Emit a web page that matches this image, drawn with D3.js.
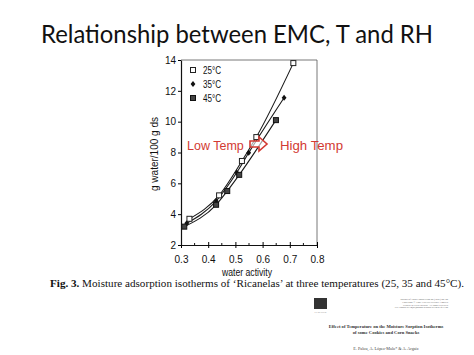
<!DOCTYPE html>
<html>
<head>
<meta charset="utf-8">
<script src="https://cdn.jsdelivr.net/npm/d3@7"></script>
<style>
  body { margin: 0; background: #fff; }
  text { font-family: "Liberation Sans", Arial, sans-serif; }
  .narrow { font-family: "Liberation Sans Narrow", "Arial Narrow", "Liberation Sans", sans-serif; }
  .serif { font-family: "Liberation Serif", "Times New Roman", serif; }
  .title { font-family: Lato, "Open Sans", sans-serif; }
</style>
</head>
<body>
<script>
// data
var series = ["25°C", "35°C", "45°C"];
var aw25 = [0.331, 0.440, 0.524, 0.577, 0.713];
var m25 = [3.70, 5.22, 7.45, 9.00, 13.80];
var aw35 = [0.321, 0.429, 0.505, 0.549, 0.679];
var m35 = [3.41, 4.85, 6.70, 7.98, 11.55];
var aw45 = [0.312, 0.429, 0.470, 0.514, 0.649];
var m45 = [3.19, 4.61, 5.50, 6.55, 10.10];
var xTicks = [0.3, 0.4, 0.5, 0.6, 0.7, 0.8];
var yTicks = [2, 4, 6, 8, 10, 12, 14];

var W = 474, H = 355;
var svg = d3.select("body").append("svg").attr("width", W).attr("height", H);

// slide title
svg.append("text").attr("class", "title")
    .attr("x", 237).attr("y", 43)
    .attr("text-anchor", "middle")
    .attr("font-size", 25)
    .attr("fill", "#111")
    .attr("textLength", 392).attr("lengthAdjust", "spacingAndGlyphs")
    .text("Relationship between EMC, T and RH");

var x = d3.scaleLinear().domain([0.3, 0.8]).range([181, 317]);
var y = d3.scaleLinear().domain([2, 14]).range([245, 60]);

var g = svg.append("g");

// frame top and right
g.append("path")
    .attr("d", "M" + x(0.3) + "," + y(14) + "H" + x(0.8) + "V" + y(2))
    .attr("fill", "none").attr("stroke", "#555").attr("stroke-width", 0.8);

var xAxis = g.append("g")
    .attr("transform", "translate(0," + y(2) + ")")
    .call(d3.axisBottom(x).tickValues(xTicks).tickFormat(d3.format(".1f")).tickSizeInner(3).tickSizeOuter(0).tickPadding(8));
xAxis.selectAll(".tick line").attr("y1", -3);
xAxis.selectAll(".tick text").attr("class", "narrow").attr("font-size", 10).attr("fill", "#111");
// minor ticks
xAxis.selectAll(".minor").data([0.35, 0.45, 0.55, 0.65, 0.75]).enter().append("line")
    .attr("x1", function (d) { return x(d); }).attr("x2", function (d) { return x(d); })
    .attr("y1", -2).attr("y2", 0).attr("stroke", "#111");

var yAxis = g.append("g")
    .attr("transform", "translate(" + x(0.3) + ",0)")
    .call(d3.axisLeft(y).tickValues(yTicks).tickSizeInner(3).tickSizeOuter(0).tickPadding(2));
yAxis.selectAll(".tick text").attr("class", "narrow").attr("font-size", 10).attr("fill", "#111");
g.selectAll(".domain").attr("stroke", "#111").attr("stroke-width", 1.2);

g.append("text").attr("class", "narrow")
    .attr("x", x(0.55) - 2).attr("y", 276)
    .attr("text-anchor", "middle").attr("font-size", 10).attr("fill", "#111")
    .attr("textLength", 50).attr("lengthAdjust", "spacingAndGlyphs")
    .text("water activity");

g.append("text").attr("class", "narrow")
    .attr("transform", "translate(158,154) rotate(-90)")
    .attr("text-anchor", "middle").attr("font-size", 10).attr("fill", "#111")
    .text("g water/100 g ds");

// curves
var line = d3.line()
    .x(function (d) { return x(d[0]); })
    .y(function (d) { return y(d[1]); })
    .curve(d3.curveMonotoneX);

var sets = [d3.zip(aw25, m25), d3.zip(aw35, m35), d3.zip(aw45, m45)];
g.selectAll(".iso").data(sets).enter().append("path")
    .attr("class", "iso")
    .attr("d", line)
    .attr("fill", "none").attr("stroke", "#1a1a1a").attr("stroke-width", 1.1);

function marker(sel, i) {
    if (i == 0) {
        sel.append("rect").attr("x", -2.5).attr("y", -2.5).attr("width", 5).attr("height", 5)
            .attr("fill", "#fff").attr("stroke", "#222").attr("stroke-width", 1);
    } else if (i == 1) {
        sel.append("path").attr("d", "M0,-3L2.4,0L0,3L-2.4,0Z").attr("fill", "#111");
    } else {
        sel.append("rect").attr("x", -2.5).attr("y", -2.5).attr("width", 5).attr("height", 5)
            .attr("fill", "#444").attr("stroke", "#111").attr("stroke-width", 1);
    }
}

sets.forEach(function (pts, i) {
    g.selectAll(".m" + i).data(pts).enter().append("g")
        .attr("class", "m" + i)
        .attr("transform", function (d) { return "translate(" + x(d[0]) + "," + y(d[1]) + ")"; })
        .each(function () { marker(d3.select(this), i); });
});

// legend
var leg = g.selectAll(".leg").data(series).enter().append("g")
    .attr("class", "leg")
    .attr("transform", function (d, i) { return "translate(193," + (70 + i * 14) + ")"; });
leg.each(function (d, i) { marker(d3.select(this), i); });
leg.append("text").attr("class", "narrow")
    .attr("x", 10).attr("dy", "0.35em").attr("font-size", 10).attr("fill", "#111")
    .attr("textLength", 18).attr("lengthAdjust", "spacingAndGlyphs")
    .text(function (d) { return d; });

// annotation
var red = "#d23a32";
svg.append("text").attr("x", 187).attr("y", 149.5).attr("font-size", 12.5).attr("fill", red).text("Low Temp");
svg.append("text").attr("x", 280).attr("y", 149.5).attr("font-size", 12.5).attr("fill", red)
    .attr("textLength", 63).attr("lengthAdjust", "spacingAndGlyphs").text("High Temp");
svg.append("path")
    .attr("d", "M250,141H259V137L267,144L259,151V147H250Z")
    .attr("fill", "#fff").attr("fill-opacity", 0.6).attr("stroke", red).attr("stroke-width", 1.6);

// caption
var cap = svg.append("text").attr("class", "serif")
    .attr("x", 50).attr("y", 286.5).attr("font-size", 10.5).attr("fill", "#111")
    .attr("textLength", 414).attr("lengthAdjust", "spacingAndGlyphs");
cap.append("tspan").attr("font-weight", "bold").text("Fig. 3.");
cap.append("tspan").text(" Moisture adsorption isotherms of \u2018Ricanelas\u2019 at three temperatures (25, 35 and 45\u00b0C).");

// paper header thumbnail
svg.append("rect").attr("x", 314).attr("y", 298).attr("width", 13).attr("height", 11).attr("fill", "#333");
svg.append("text").attr("class", "serif").attr("x", 320.5).attr("y", 313).attr("text-anchor", "middle")
    .attr("font-size", 2.5).attr("fill", "#777").text("ELSEVIER");
var hdr = ["Journal of Food Engineering 00 (1997) 00\u201300", "Copyright \u00a9 1997 Elsevier Science Limited",
    "Printed in Great Britain. All rights reserved", "PII: S0260-8774(96)00000-0   0260-8774/97/$17.00"];
svg.selectAll(".hdr").data(hdr).enter().append("text").attr("class", "serif hdr")
    .attr("x", 448).attr("y", function (d, i) { return 300 + i * 2.8; })
    .attr("text-anchor", "end").attr("font-size", 2.6).attr("fill", "#666")
    .text(function (d) { return d; });
svg.append("text").attr("class", "serif").attr("x", 386).attr("y", 328).attr("text-anchor", "middle")
    .attr("font-size", 4.6).attr("font-weight", "bold").attr("fill", "#333")
    .text("Effect of Temperature on the Moisture Sorption Isotherms");
svg.append("text").attr("class", "serif").attr("x", 386).attr("y", 334).attr("text-anchor", "middle")
    .attr("font-size", 4.6).attr("font-weight", "bold").attr("fill", "#333")
    .text("of some Cookies and Corn Snacks");
svg.append("text").attr("class", "serif").attr("x", 386).attr("y", 350).attr("text-anchor", "middle")
    .attr("font-size", 4.2).attr("fill", "#444")
    .text("E. Palou, A. L\u00f3pez-Malo* & A. Argaiz");
</script>
</body>
</html>
